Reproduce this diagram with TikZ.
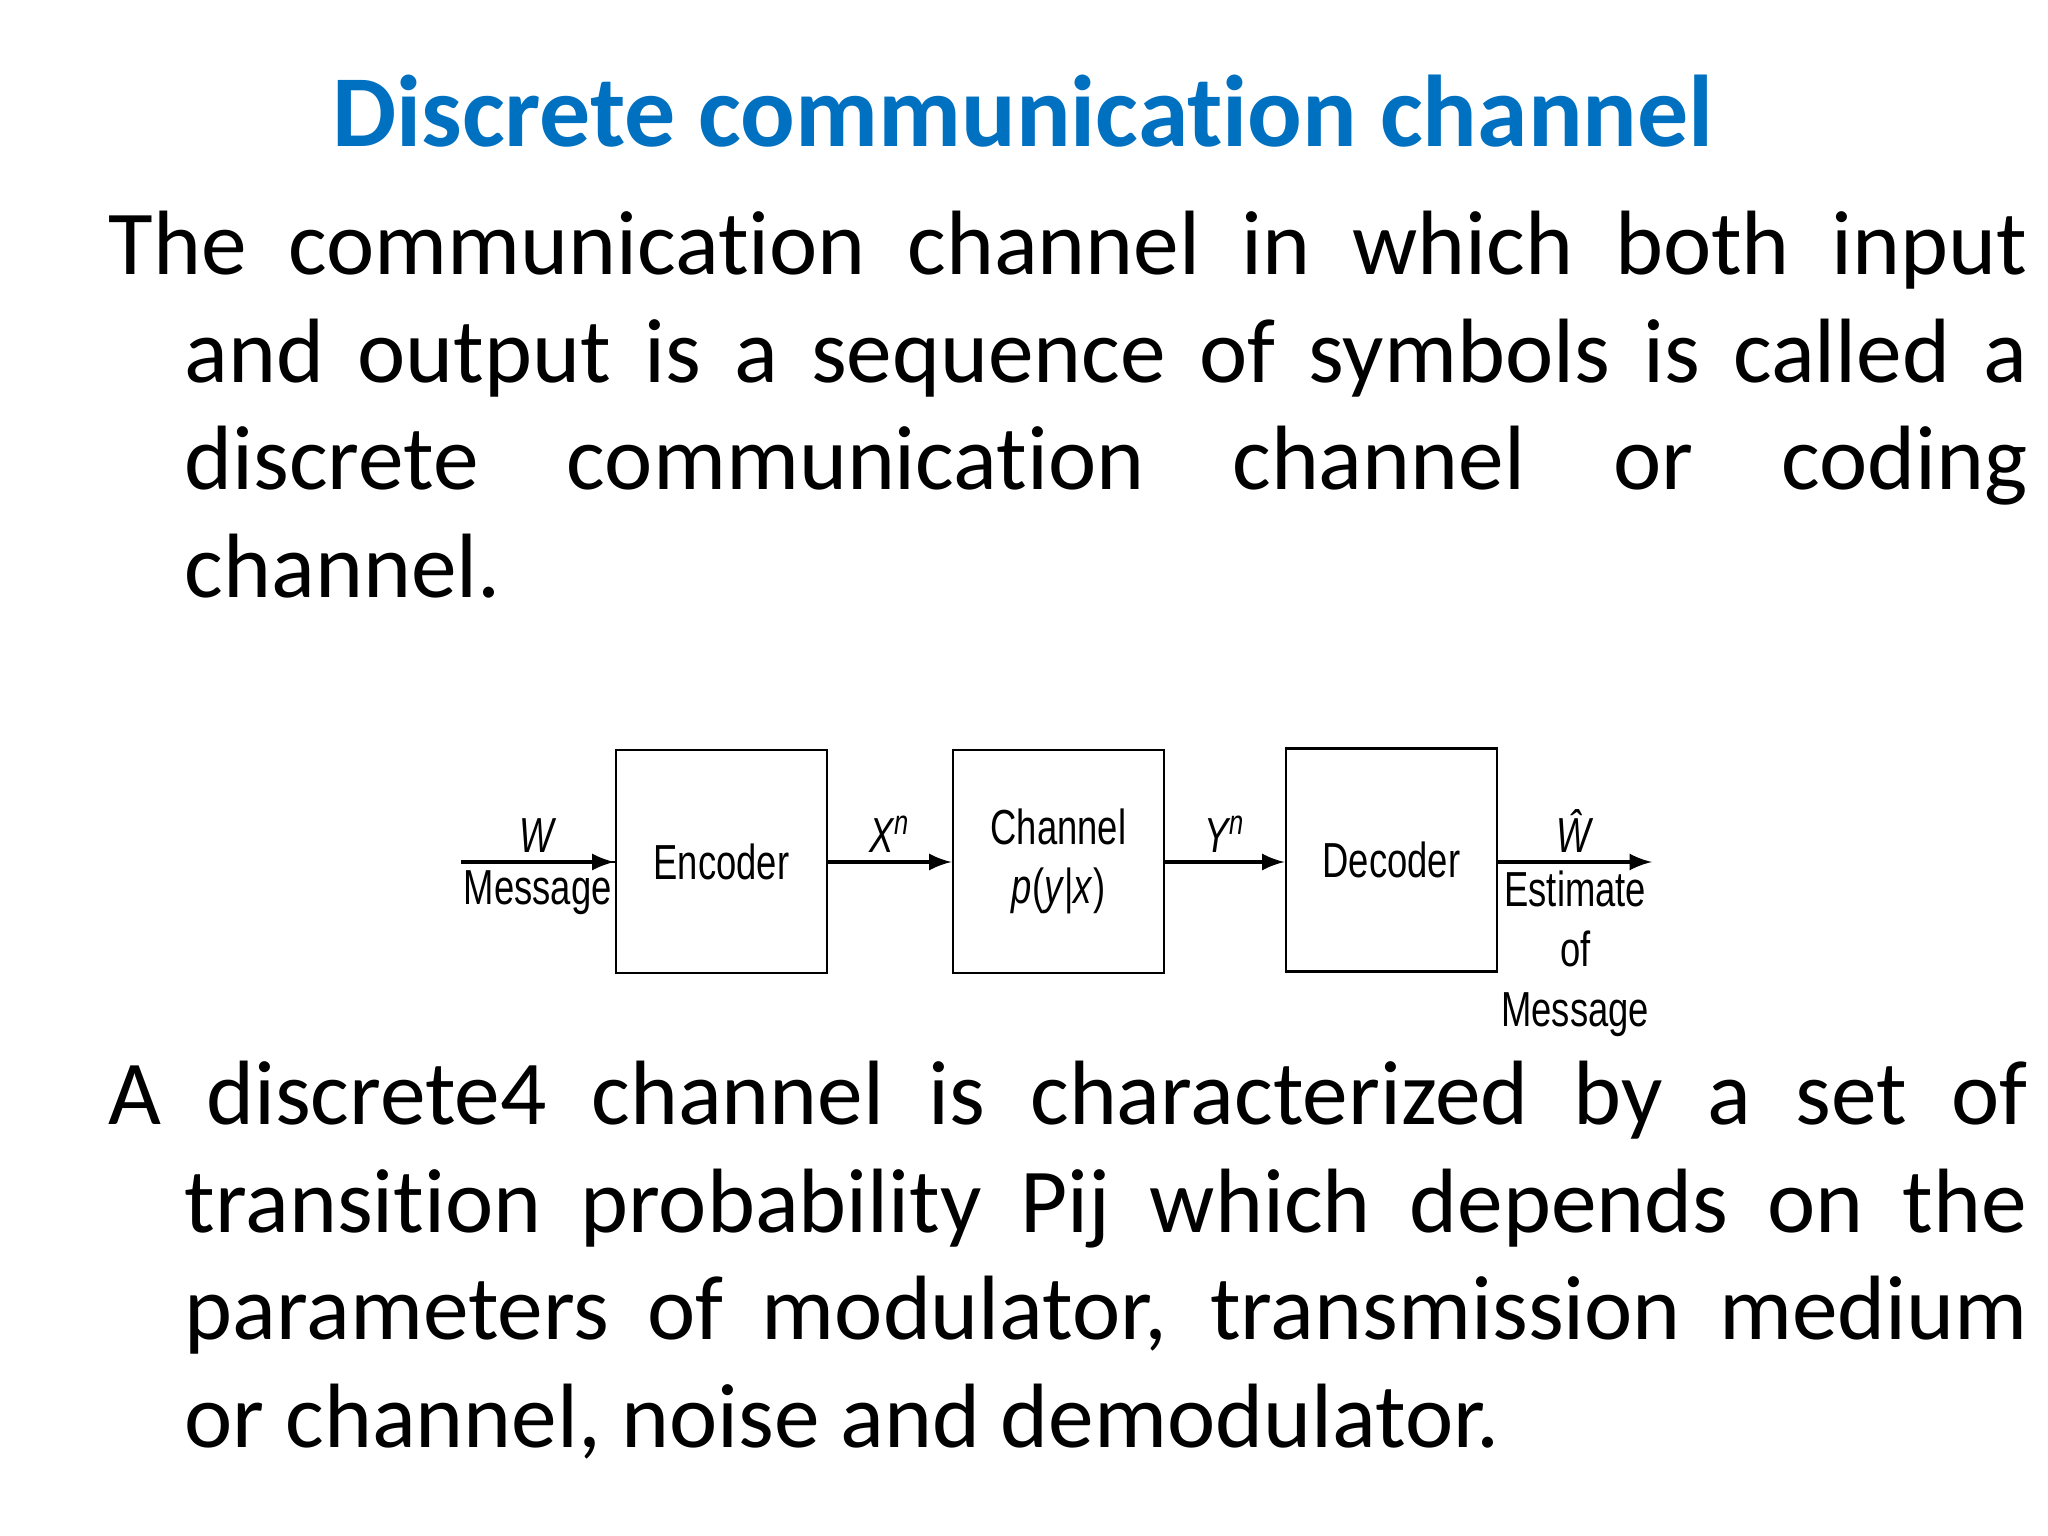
\documentclass[tikz,border=0pt]{standalone}
\usepackage{fontspec}
\setmainfont{Carlito}[Ligatures=NoCommon]
\newfontfamily\diagfont[FakeStretch=0.74]{Liberation Sans}
\usetikzlibrary{positioning}
\definecolor{titleblue}{RGB}{0,112,192}
\tikzset{
  block/.style={draw,thick,align=center,minimum width=2.11cm,minimum height=2.23cm,font=\diagfont\fontsize{14}{17}\selectfont},
  sig/.style={font=\diagfont\fontsize{14}{17}\selectfont,inner sep=2pt},
  para/.style={anchor=north west,inner sep=0pt,text width=19.19cm,align=justify,font=\fontsize{26}{30.7}\selectfont}
}
\newcommand{\hangpar}{\hyphenpenalty=10000\parshape 2 0cm 19.19cm 0.76cm 18.43cm}
\begin{document}
\begin{tikzpicture}
  \useasboundingbox (0,0) rectangle (20.48,-15.36);

  % Title
  \node[font=\fontsize{29}{34}\selectfont\bfseries,text=titleblue] (title) at (10.23,-1.11) {Discrete communication channel};

  % First paragraph
  \node[para] (para1) at (1.08,-2.10)
    {\hangpar The communication channel in which both input and output is a sequence of symbols is called a\linebreak discrete communication channel or coding\linebreak channel.\par};

  % Block diagram
  \node[block] (enc) at (7.215,-8.615) {Encoder};
  \node[block] (chan) at (10.585,-8.615) {Channel\\\textit{p}(\textit{y}|\textit{x})};
  \node[block] (dec) at (13.915,-8.60) {Decoder};
  \coordinate (in) at (4.61,-8.62);
  \coordinate (out) at (16.52,-8.62);
  \draw[link/.style={}] (in) -- (enc.west |- in);
  \draw[-latex,very thick] (in) -- (enc.west |- in) node[midway,above,sig] {\textit{W}} node[midway,below,sig] {Message};
  \draw[-latex,very thick] (enc.east |- in) -- (chan.west |- in) node[midway,above,sig] {\textit{X\textsuperscript{n}}};
  \draw[-latex,very thick] (chan.east |- in) -- (dec.west |- in) node[midway,above,sig] {\textit{Y\textsuperscript{n}}};
  \draw[-latex,very thick] (dec.east |- in) -- (out) node[midway,above,sig] {\textit{\^W}}
    node[midway,below,sig,align=center] {Estimate\\of\\Message};

  % Second paragraph
  \node[para] (para2) at (1.08,-10.60)
    {\hangpar A discrete4 channel is characterized by a set of\linebreak transition probability Pij which depends on the\linebreak parameters of modulator, transmission medium\linebreak or channel, noise and demodulator.\par};
\end{tikzpicture}
\end{document}
